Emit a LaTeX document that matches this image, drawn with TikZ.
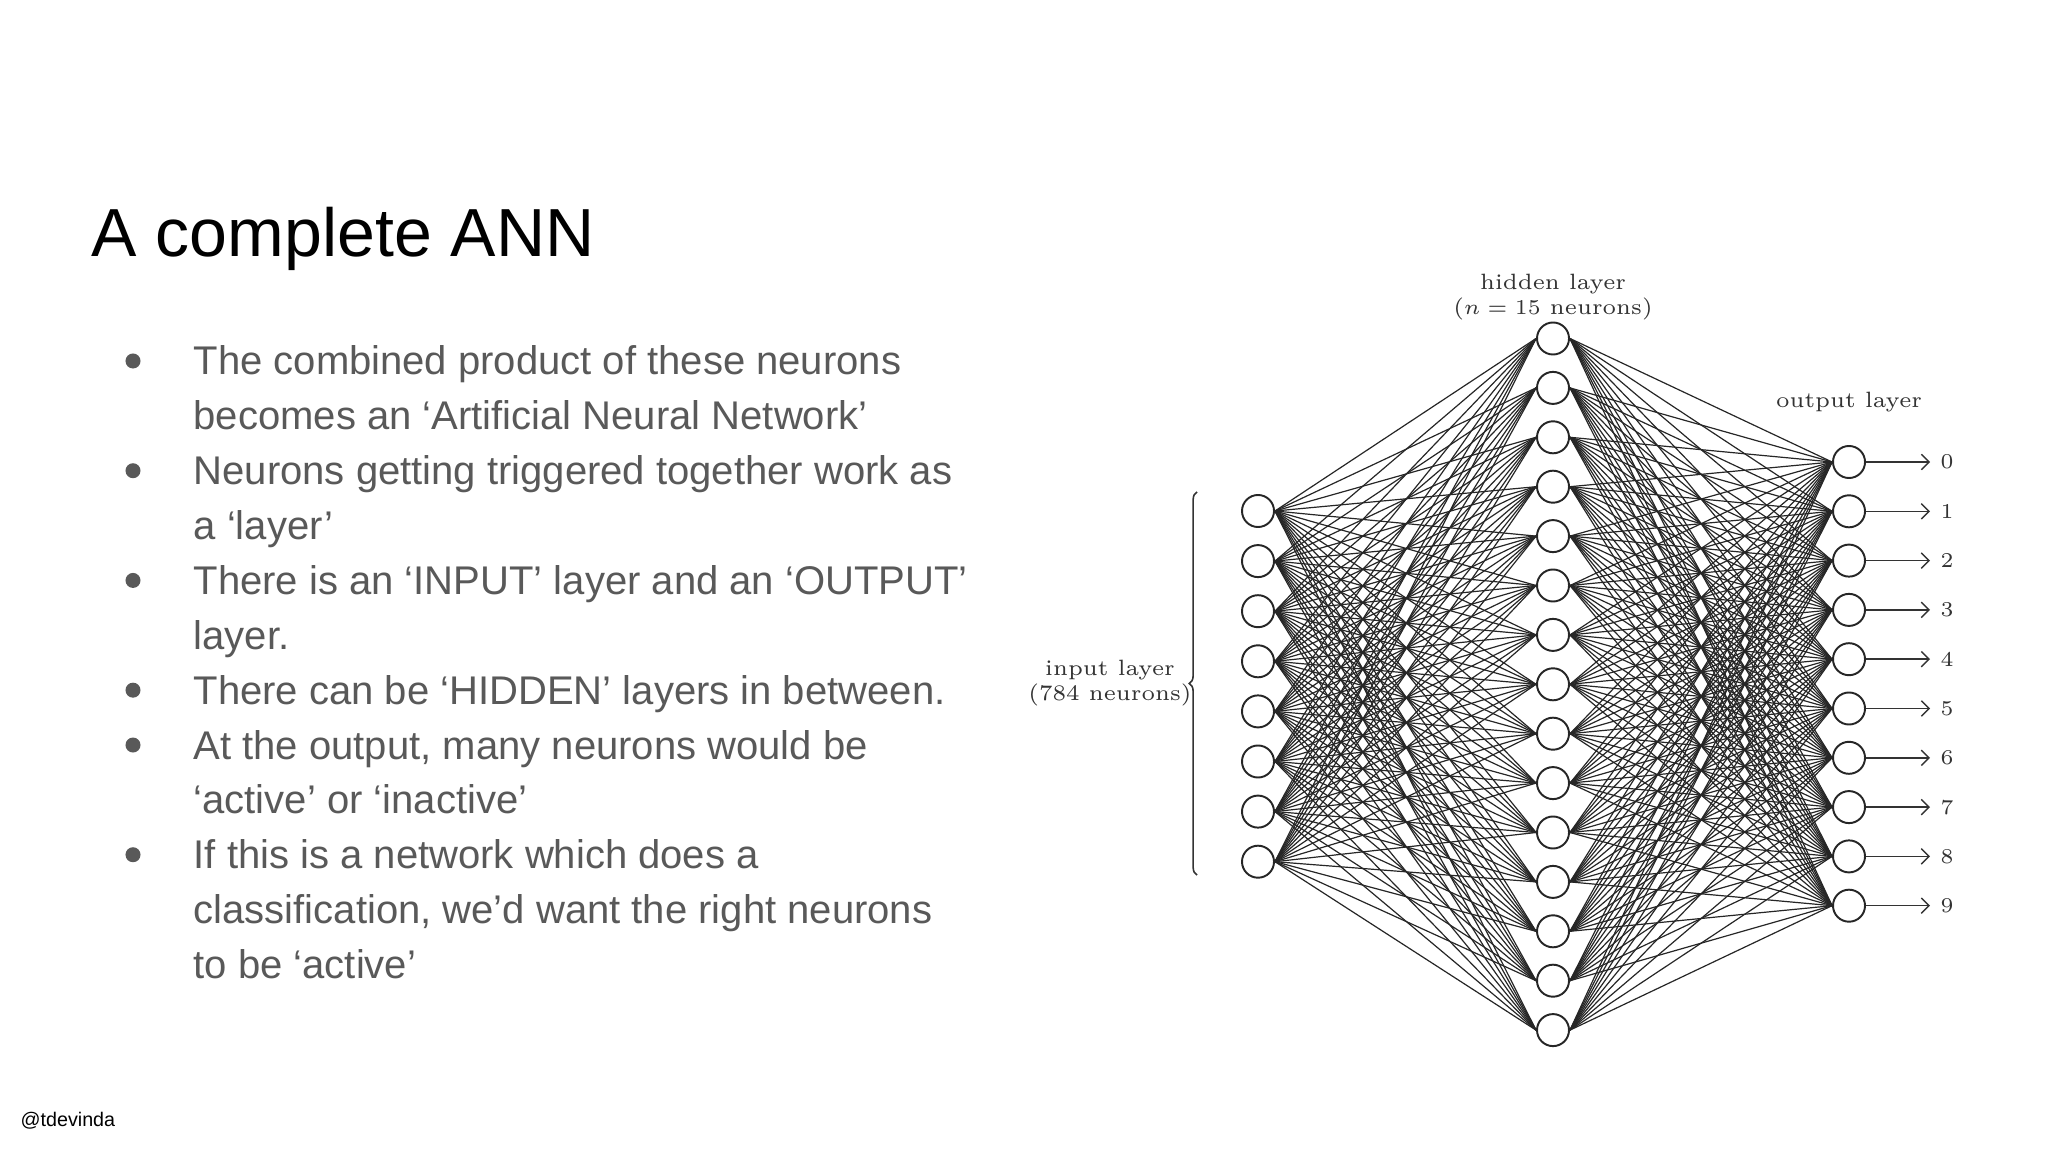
\documentclass[tikz,border=0pt]{standalone}
\usepackage{fontspec}
\newfontfamily\slidefont{Liberation Sans}
\usetikzlibrary{arrows.meta,decorations.pathreplacing}
\definecolor{slidegray}{HTML}{595959}

\begin{document}
\begin{tikzpicture}[x=0.01cm, y=-0.01cm,
	neuron/.style={circle, draw=black!85, line width=0.55pt, fill=white, minimum size=0.32cm, inner sep=0pt},
	link/.style={black!85, line width=0.34pt},
	outarrow/.style={black!80, line width=0.4pt, -{Straight Barb[length=2.2pt, width=4.4pt]}},
	bodytext/.style={slidegray, font=\slidefont\fontsize{11.38}{15.6}\selectfont, anchor=base west, inner sep=0pt},
	netlabel/.style={black!80, font=\fontsize{6.3}{7.1}\selectfont, align=center, inner sep=0pt}]
	\useasboundingbox (0,0) rectangle (2048,1152);
	\fill[white] (0,0) rectangle (2048,1152);
	\node[font=\slidefont\fontsize{19.35}{23}\selectfont, anchor=base west, inner sep=0pt] (title) at (91,257) {A complete ANN};
	\foreach \txt [count=\k from 0] in {{The combined product of these neurons}, {becomes an ‘Artificial Neural Network’},
		{Neurons getting triggered together work as}, {a ‘layer’}, {There is an ‘INPUT’ layer and an ‘OUTPUT’}, {layer.},
		{There can be ‘HIDDEN’ layers in between.}, {At the output, many neurons would be}, {‘active’ or ‘inactive’},
		{If this is a network which does a}, {classification, we’d want the right neurons}, {to be ‘active’}}
		\node[bodytext] (line\k) at (193, {375+54.86*\k}) {\txt};
	\foreach \k in {0,2,4,6,7,9}
		\fill[slidegray] (133, {361+54.86*\k}) circle[radius=0.075cm];
	\node[font=\slidefont\fontsize{5.6}{7}\selectfont, anchor=base west, inner sep=0pt] (handle) at (20,1126) {@tdevinda};
	\foreach \k in {1,...,8}
		\node[neuron] (i\k) at (1258, {511+50.1*(\k-1)}) {};
	\foreach \k in {1,...,15}
		\node[neuron] (h\k) at (1553, {338.5+49.4*(\k-1)}) {};
	\foreach \k in {0,...,9}
		\node[neuron] (o\k) at (1849, {462+49.3*\k}) {};
	\foreach \a in {1,...,8}
		\foreach \b in {1,...,15}
			\draw[link] (i\a.east) -- (h\b.west);
	\foreach \b in {1,...,15}
		\foreach \c in {0,...,9}
			\draw[link] (h\b.east) -- (o\c.west);
	\foreach \c in {0,...,9} {
		\coordinate (a\c) at (1930, {462+49.3*\c});
		\draw[outarrow] (o\c) -- (a\c);
		\node[netlabel, font=\fontsize{6}{7}\selectfont] (d\c) at (1947, {462+49.3*\c}) {\c};
	}
	\coordinate (brtop) at (1197,492);
	\coordinate (brbot) at (1197,875);
	\draw[black!80, line width=0.45pt, decorate, decoration={brace, amplitude=2.2pt}] (brbot) -- (brtop);
	\node[netlabel] (inlab) at (1110,683) {input layer\\(784 neurons)};
	\node[netlabel] (hidlab) at (1553,297) {hidden layer\\($n=15$ neurons)};
	\node[netlabel] (outlab) at (1849,402) {output layer};
\end{tikzpicture}
\end{document}
